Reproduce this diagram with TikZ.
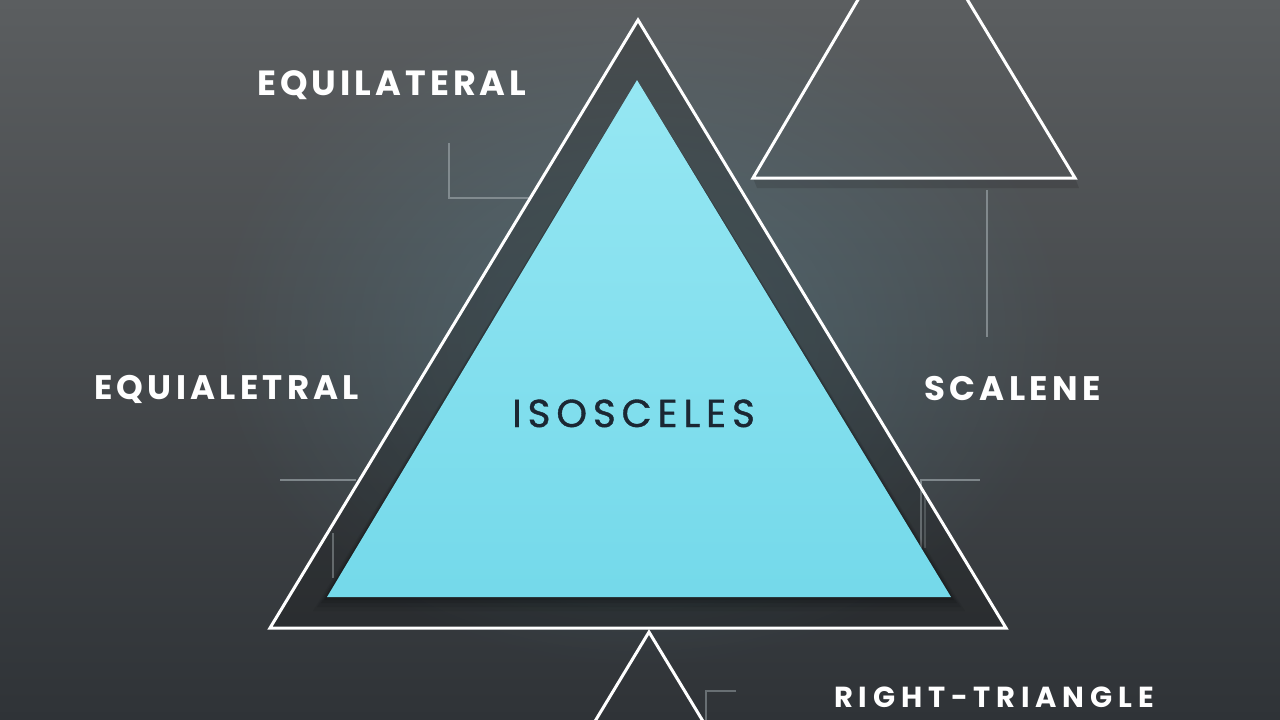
\documentclass[tikz,border=0pt]{standalone}
\usepackage{fontspec}
\setmainfont{Poppins}
\usetikzlibrary{fadings,calc}
\definecolor{bgtop}{HTML}{5B5E60}
\definecolor{bgbot}{HTML}{2F3337}
\definecolor{cyantop}{HTML}{96E7F3}
\definecolor{cyanbot}{HTML}{74D9EA}
\definecolor{glowc}{HTML}{5C8A9A}
\definecolor{faint}{HTML}{8E979B}
\definecolor{navy}{HTML}{1B2733}
\tikzfading[name=softglow, inner color=transparent!0, outer color=transparent!100]
\newcommand{\lblsize}[2]{\bfseries\fontsize{#1}{#1}\selectfont\addfontfeature{LetterSpace=#2}}
\tikzset{
  lbl/.style={text=white, inner sep=0pt, anchor=base west},
  mainlbl/.style={text=navy, inner sep=0pt, anchor=base west},
  outline/.style={draw=white, line width=3pt, line join=miter},
  guide/.style={draw=faint, line width=1.1pt, opacity=0.8},
}
\begin{document}
\begin{tikzpicture}[x=1pt,y=-1pt]
\useasboundingbox (0,0) rectangle (1280,720);
% background
\shade[top color=bgtop, bottom color=bgbot] (0,0) rectangle (1280,720);
\fill[glowc, path fading=softglow, opacity=0.42] (640,330) ellipse (430 and 340);
% guides
\coordinate (g1a) at (449,143); \coordinate (g1b) at (449,198); \coordinate (g1c) at (531,198);
\draw[guide] (g1a) -- (g1b) -- (g1c);
\coordinate (g2a) at (987,190); \coordinate (g2b) at (987,337);
\draw[guide] (g2a) -- (g2b);
\coordinate (g3a) at (280,480); \coordinate (g3b) at (356,480);
\draw[guide] (g3a) -- (g3b);
\coordinate (g4a) at (333,533); \coordinate (g4b) at (333,578);
\draw[guide] (g4a) -- (g4b);
\coordinate (g5a) at (980,480); \coordinate (g5b) at (921,480); \coordinate (g5c) at (921,548);
\draw[guide] (g5a) -- (g5b) -- (g5c);
\coordinate (g6a) at (925,492); \coordinate (g6b) at (925,548);
\draw[guide, opacity=0.5] (g6a) -- (g6b);
\coordinate (g7a) at (736,691); \coordinate (g7b) at (706,691); \coordinate (g7c) at (706,720);
\draw[guide, opacity=0.6] (g7a) -- (g7b) -- (g7c);
% outer big triangle interior (darker)
\coordinate (oA) at (638,20); \coordinate (oB) at (270,628); \coordinate (oC) at (1006,628);
\fill[black, opacity=0.2] (oA) -- (oB) -- (oC) -- cycle;
% shadow of the cyan triangle
\coordinate (iA) at (637,80); \coordinate (iB) at (327,597); \coordinate (iC) at (951,597);
\foreach \s/\o in {14/0.06,10/0.08,6/0.1,3/0.12}{
  \fill[black, opacity=\o] (iA) -- ($(iB)+(-\s,\s)$) -- ($(iC)+(\s,\s)$) -- cycle;
}
% cyan triangle
\shade[top color=cyantop, bottom color=cyanbot] (iA) -- (iB) -- (iC) -- cycle;
\draw[outline] (oA) -- (oB) -- (oC) -- cycle;
% upper right triangle and bottom triangle (cut by the picture's edges)
\coordinate (tA) at (912,-92); \coordinate (tB) at (753,178); \coordinate (tC) at (1075,178);
\coordinate (bA) at (649,632); \coordinate (bB) at (580,746); \coordinate (bC) at (718,746);
\begin{scope}
\clip (0,0) rectangle (1280,720);
\fill[black, opacity=0.12] ($(tB)+(4,10)$) -- ($(tC)+(4,10)$) -- (tC) -- (tB) -- cycle;
\draw[outline] (tA) -- (tB) -- (tC) -- cycle;
\draw[outline] (bB) -- (bA) -- (bC);
\end{scope}
% labels
\node[lbl, font=\lblsize{35}{11.5}] (eq1) at (257,95) {EQUILATERAL};
\node[lbl, font=\lblsize{34}{12.5}] (eq2) at (94,399) {EQUIALETRAL};
\node[lbl, font=\lblsize{34}{13}] (sc) at (924,400) {SCALENE};
\node[lbl, font=\lblsize{29}{20}] (rt) at (834,707) {RIGHT-TRIANGLE};
\node[mainlbl, font=\fontsize{39}{39}\selectfont\addfontfeature{LetterSpace=15,FakeBold=1}] (iso) at (512,427) {ISOSCELES};
\end{tikzpicture}
\end{document}
